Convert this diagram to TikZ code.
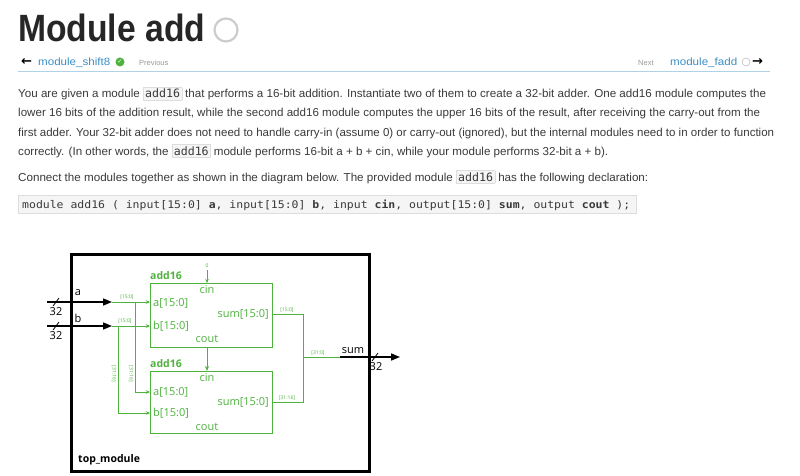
\documentclass[tikz,border=0pt]{standalone}
\usepackage{fontspec}
\usepackage{graphicx}
\setmainfont{Liberation Sans}
\newfontfamily\osans{Open Sans}
\newfontfamily\dsym{DejaVu Sans}
\setmonofont{DejaVu Sans Mono}
\usetikzlibrary{arrows.meta}
\definecolor{grn}{HTML}{4DB33D}
\definecolor{lnk}{HTML}{3A8FC4}
\definecolor{txt}{HTML}{3A3A3A}
\definecolor{cbg}{HTML}{F5F5F5}
\definecolor{cbd}{HTML}{DDDDDD}
\newcommand{\fitln}[2]{\resizebox{#1pt}{\height}{#2}}
\newcommand{\cd}[1]{{\setlength\fboxsep{1.5pt}\setlength\fboxrule{0.4pt}\fcolorbox{cbd}{cbg}{\ttfamily\color{txt}#1}}}
\tikzset{
  para/.style={anchor=base west,inner sep=0,font=\fontsize{11.5}{12}\selectfont,text=txt},
  box/.style={draw=grn,line width=1.3pt},
  gw/.style={draw=grn,line width=0.6pt},
  bw/.style={draw=black,line width=1.6pt},
  port/.style={text=grn,font=\osans\fontsize{11}{12}\selectfont,inner sep=0},
  tiny/.style={text=grn,font=\osans\fontsize{5}{5}\selectfont,inner sep=0},
  blk/.style={text=black,font=\osans\fontsize{11}{12}\selectfont,inner sep=0},
}
\begin{document}
\begin{tikzpicture}[x=1pt,y=-1pt]
\useasboundingbox[fill=white] (0,0) rectangle (800,476);
% header
\node[anchor=base west,inner sep=0,font=\bfseries\fontsize{38}{40}\selectfont,text=black!85] (title) at (18,42) {\fitln{187}{Module add}};
\node[draw=black!20,line width=2.2pt,circle,minimum size=23pt,inner sep=0] (tc) at (226,30) {};
\node[anchor=base west,inner sep=0,font=\dsym\bfseries\fontsize{13}{14}\selectfont] (la) at (21,66) {\symbol{"2190}};
\node[anchor=base west,inner sep=0,font=\fontsize{10.5}{11}\selectfont,text=lnk] (prev) at (38,66) {\fitln{72}{module\_shift8}};
\node[circle,fill=grn,minimum size=9pt,inner sep=0,text=white,font=\dsym\fontsize{6}{6}\selectfont] (chk) at (120,62) {\symbol{"2713}};
\node[anchor=base west,inner sep=0,font=\fontsize{7.5}{8}\selectfont,text=black!40] (pl) at (139,66) {Previous};
\node[anchor=base west,inner sep=0,font=\fontsize{7.5}{8}\selectfont,text=black!40] (nl) at (638,66) {Next};
\node[anchor=base west,inner sep=0,font=\fontsize{10.5}{11}\selectfont,text=lnk] (next) at (670,66) {\fitln{67}{module\_fadd}};
\node[draw=black!20,line width=0.8pt,circle,minimum size=8pt,inner sep=0] (nc) at (746,62) {};
\node[anchor=base west,inner sep=0,font=\dsym\bfseries\fontsize{13}{14}\selectfont] (ra) at (752,66) {\symbol{"2192}};
\coordinate (r1) at (18,71); \coordinate (r2) at (770,71);
\draw[lnk!40,line width=0.8pt] (r1) -- (r2);
% paragraph
\node[para] (p1) at (18,98) {\fitln{748}{You are given a module \cd{add16} that performs a 16-bit addition. Instantiate two of them to create a 32-bit adder. One add16 module computes the}};
\node[para] (p2) at (18,117) {\fitln{742}{lower 16 bits of the addition result, while the second add16 module computes the upper 16 bits of the result, after receiving the carry-out from the}};
\node[para] (p3) at (18,136) {\fitln{756}{first adder. Your 32-bit adder does not need to handle carry-in (assume 0) or carry-out (ignored), but the internal modules need to in order to function}};
\node[para] (p4) at (18,155) {\fitln{590}{correctly. (In other words, the \cd{add16} module performs 16-bit a + b + cin, while your module performs 32-bit a + b).}};
\node[para] (p5) at (18,181) {\fitln{630}{Connect the modules together as shown in the diagram below. The provided module \cd{add16} has the following declaration:}};
\node[draw=cbd,fill=cbg,line width=0.4pt,anchor=west,minimum height=18pt,minimum width=618pt,inner sep=0] (cbox) at (18,204) {};
\node[anchor=base west,inner sep=0,font=\ttfamily\fontsize{10.5}{11}\selectfont,text=txt] (code) at (22,208) {\fitln{608}{module add16 ( input[15:0] \textbf{a}, input[15:0] \textbf{b}, input \textbf{cin}, output[15:0] \textbf{sum}, output \textbf{cout} );}};
% diagram
\node[draw=black,line width=3pt,minimum width=298pt,minimum height=217pt,anchor=north west,inner sep=0] (top) at (70,253) {};
\node[anchor=base west,inner sep=0,font=\osans\bfseries\fontsize{10.5}{11}\selectfont] (tl) at (78,462) {top\_module};
\node[box,minimum width=122pt,minimum height=64pt,anchor=north west,inner sep=0] (u) at (150,283) {};
\node[box,minimum width=122pt,minimum height=62pt,anchor=north west,inner sep=0] (l) at (150,371) {};
\node[anchor=base west,inner sep=0,text=grn,font=\osans\bfseries\fontsize{10.5}{11}\selectfont] (un) at (150,279) {add16};
\node[anchor=base west,inner sep=0,text=grn,font=\osans\bfseries\fontsize{10.5}{11}\selectfont] (ln) at (150,367) {add16};
\node[port] (ucin) at (207,290) {cin};
\node[port,anchor=west] (ua) at (153,303) {a[15:0]};
\node[port,anchor=west] (ub) at (153,326) {b[15:0]};
\node[port,anchor=east] (us) at (269,314) {sum[15:0]};
\node[port] (uco) at (207,339) {cout};
\node[port] (lcin) at (207,378) {cin};
\node[port,anchor=west] (la2) at (153,392) {a[15:0]};
\node[port,anchor=west] (lb2) at (153,413) {b[15:0]};
\node[port,anchor=east] (ls) at (269,402) {sum[15:0]};
\node[port] (lco) at (207,427) {cout};
\node[tiny] (zero) at (207,266) {0};
% coordinates
\coordinate (ua0) at (150,302); \coordinate (ub0) at (150,326);
\coordinate (la0) at (150,392); \coordinate (lb0) at (150,413);
\coordinate (ut) at (207,283); \coordinate (z0) at (207,270);
\coordinate (ubot) at (207,347); \coordinate (ltop) at (207,371);
\coordinate (us0) at (272,314); \coordinate (ls0) at (272,402);
\coordinate (ain) at (47,302); \coordinate (aend) at (112,302);
\coordinate (bin) at (47,326); \coordinate (bend) at (112,326);
\coordinate (abr) at (135,302); \coordinate (bbr) at (118,326);
\coordinate (abr2) at (135,392); \coordinate (bbr2) at (118,413);
\coordinate (su1) at (303,314); \coordinate (sl1) at (303,402);
\coordinate (sj) at (303,357); \coordinate (sg) at (340,357); \coordinate (sout) at (400,357);
% black inputs/outputs
\draw[bw,-{Triangle[length=9pt,width=7pt]}] (ain) -- (aend);
\draw[bw,-{Triangle[length=9pt,width=7pt]}] (bin) -- (bend);
\draw[bw,-{Triangle[length=9pt,width=7pt]}] (sg) -- (sout);
\draw[line width=0.8pt] (53,306) -- (59,298);
\draw[line width=0.8pt] (53,330) -- (59,322);
\draw[line width=0.8pt] (372,361) -- (378,353);
\node[blk] (a32) at (56,312) {32};
\node[blk] (b32) at (56,336) {32};
\node[blk] (s32) at (376,367) {32};
\node[blk] (al) at (78,293) {a};
\node[blk] (bl) at (78,318) {b};
\node[blk] (sl) at (353,351) {sum};
% green wires
\tikzset{ga/.style={gw,-{Stealth[length=4pt,width=3.5pt]}}}
\draw[ga] (aend) -- (ua0);
\draw[ga] (bend) -- (ub0);
\draw[ga] (abr) -- (abr2) -- (la0);
\draw[ga] (bbr) -- (bbr2) -- (lb0);
\draw[ga] (z0) -- (ut);
\draw[gw,line width=1pt,-{Stealth[length=5pt,width=4pt]}] (ubot) -- (ltop);
\draw[gw] (us0) -- (su1) -- (sl1) -- (ls0);
\draw[gw] (sj) -- (sg);
\node[tiny] (t1) at (127,297) {[15:0]};
\node[tiny] (t2) at (125,321) {[15:0]};
\node[tiny,rotate=-90] (t3) at (131,374) {[31:16]};
\node[tiny,rotate=-90] (t4) at (114,374) {[31:16]};
\node[tiny] (t5) at (287,310) {[15:0]};
\node[tiny] (t6) at (287,398) {[31:16]};
\node[tiny] (t7) at (318,353) {[31:0]};
\end{tikzpicture}
\end{document}
